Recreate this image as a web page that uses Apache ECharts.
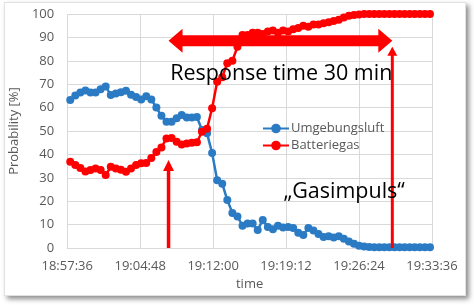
<!DOCTYPE html>
<html>
<head>
<meta charset="utf-8">
<script src="https://cdn.jsdelivr.net/npm/echarts@6/dist/echarts.min.js"></script>
<style>
html,body{margin:0;padding:0;background:#fff;}
#frame{position:absolute;left:4px;top:2px;width:462px;height:294px;background:#fff;border:1px solid #e2e2e2;box-sizing:border-box;box-shadow:3px 3px 5px rgba(0,0,0,0.45);}
#chart{position:absolute;left:0;top:0;width:474px;height:305px;}
</style>
</head>
<body>
<div id="frame"></div>
<div id="chart"></div>
<script>
// ---- data ----
const times = ["18:57:54","18:58:24","18:58:54","18:59:24","18:59:54","19:00:24","19:00:54","19:01:24","19:01:54","19:02:24",
"19:02:54","19:03:24","19:03:54","19:04:24","19:04:54","19:05:24","19:05:54","19:06:24","19:06:54","19:07:24",
"19:07:54","19:08:24","19:08:54","19:09:24","19:09:54","19:10:24","19:10:54","19:11:24","19:11:54","19:12:24",
"19:12:54","19:13:24","19:13:54","19:14:24","19:14:54","19:15:24","19:15:54","19:16:24","19:16:54","19:17:24",
"19:17:54","19:18:24","19:18:54","19:19:24","19:19:54","19:20:24","19:20:54","19:21:24","19:21:54","19:22:24",
"19:22:54","19:23:24","19:23:54","19:24:24","19:24:54","19:25:24","19:25:54","19:26:24","19:26:54","19:27:24",
"19:27:54","19:28:24","19:28:54","19:29:24","19:29:54","19:30:24","19:30:54","19:31:24","19:31:54","19:32:24",
"19:32:54","19:33:24"];
const umgebungsluft = [63.2,65.2,66.5,67.3,66.5,66.5,67.8,69.0,65.4,66.0,
66.6,67.2,65.5,64.5,63.5,64.8,63.5,60.0,56.5,54.0,
54.0,55.5,56.8,55.8,55.8,56.0,50.4,49.0,40.6,29.0,
27.5,20.5,15.0,13.5,9.5,10.5,10.5,7.7,12.0,9.0,
8.0,9.5,8.8,9.0,8.5,6.5,5.6,8.5,7.5,6.0,
4.7,5.0,4.5,5.0,4.0,2.8,1.8,1.0,0.6,0.4,
0.3,0.3,0.3,0.3,0.3,0.3,0.3,0.3,0.3,0.3,
0.3,0.3];
const batteriegas = [36.9,35.5,34.2,32.7,33.3,34.0,33.3,31.2,34.7,34.0,
33.4,32.6,34.0,35.5,36.2,36.3,38.5,41.0,43.0,46.8,
47.0,45.4,44.2,44.7,45.0,45.2,49.7,51.0,59.7,71.0,
73.0,79.0,80.0,86.0,91.0,91.0,92.0,92.0,91.5,92.5,
93.0,92.0,93.0,92.5,93.5,94.0,95.0,94.5,95.5,95.5,
96.0,96.5,97.0,97.5,98.5,99.2,99.6,99.8,100,100,
100,100,100,100,100,100,100,100,100,100,
100,100];
const xTickStart = "18:57:36", xTickEnd = "19:33:36", xTickStepSec = 432;
const yTicks = [0,10,20,30,40,50,60,70,80,90,100];
const seriesNames = ["Umgebungsluft","Batteriegas"];
const annoText1 = "Response time 30 min";
const annoText2 = "\u201EGasimpuls\u201C";
// annotation anchors in data units [time, probability]
const arrowStart = ["19:07:36", 88.6], arrowEnd = ["19:29:41", 88.6];
const vArrow1 = ["19:07:36", 0, 37.6], vArrow2 = ["19:29:41", 0, 86];
const text1Pos = ["19:07:46", 74.5], text2Pos = ["19:18:56", 24];

function toSec(s){const p=s.split(':').map(Number);return p[0]*3600+p[1]*60+p[2];}
function fmt(v){v=Math.round(v);const h=Math.floor(v/3600),m=Math.floor(v%3600/60),s=v%60;return h+':'+String(m).padStart(2,'0')+':'+String(s).padStart(2,'0');}

const font = "'Open Sans', sans-serif";
const grey = '#595959';
const chart = echarts.init(document.getElementById('chart'), null, {renderer:'canvas'});
chart.setOption({
  animation:false,
  backgroundColor:'transparent',
  textStyle:{fontFamily:font},
  grid:{left:65,right:42,top:14,bottom:57,containLabel:false},
  legend:{
    data:seriesNames, orient:'vertical', left:257, top:117, itemGap:4,
    itemWidth:26, itemHeight:12,
    textStyle:{fontFamily:font,fontSize:13,color:grey,padding:[0,0,0,-3]}
  },
  xAxis:{
    type:'value', min:toSec(xTickStart), max:toSec(xTickEnd), interval:xTickStepSec,
    name:'time', nameLocation:'middle', nameGap:30,
    nameTextStyle:{fontFamily:font,fontSize:13,color:grey},
    axisLine:{show:true,lineStyle:{color:'#d9d9d9'}},
    axisTick:{show:false},
    axisLabel:{formatter:fmt,fontFamily:font,fontSize:13,color:grey,margin:12,showMinLabel:true,showMaxLabel:true},
    splitLine:{show:true,lineStyle:{color:'#d9d9d9'}}
  },
  yAxis:{
    type:'value', min:yTicks[0], max:yTicks[yTicks.length-1], interval:yTicks[1]-yTicks[0],
    name:'Probability [%]', nameLocation:'middle', nameGap:42,
    nameTextStyle:{fontFamily:font,fontSize:13,color:grey},
    axisLine:{show:false}, axisTick:{show:false},
    axisLabel:{fontFamily:font,fontSize:13,color:grey,margin:13},
    splitLine:{show:true,lineStyle:{color:'#d9d9d9'}}
  },
  series:[
    {name:seriesNames[0],type:'line',data:times.map((t,i)=>[toSec(t),umgebungsluft[i]]),
     symbol:'circle',symbolSize:8,showSymbol:true,color:'#2b7bc4',lineStyle:{width:2.5,color:'#2b7bc4'},itemStyle:{color:'#2b7bc4'}},
    {name:seriesNames[1],type:'line',data:times.map((t,i)=>[toSec(t),batteriegas[i]]),
     symbol:'circle',symbolSize:8,showSymbol:true,color:'#ff0000',lineStyle:{width:2.5,color:'#ff0000'},itemStyle:{color:'#ff0000'}}
  ]
});

function px(t,v){return chart.convertToPixel({gridIndex:0},[toSec(t),v]);}
const a0 = px(arrowStart[0],arrowStart[1]), a1 = px(arrowEnd[0],arrowEnd[1]);
const hl=14, hh=12, sh=5.5, cy=a0[1];
const dbl = [[a0[0],cy],[a0[0]+hl,cy-hh],[a0[0]+hl,cy-sh],[a1[0]-hl,cy-sh],[a1[0]-hl,cy-hh],[a1[0],cy],[a1[0]-hl,cy+hh],[a1[0]-hl,cy+sh],[a0[0]+hl,cy+sh],[a0[0]+hl,cy+hh]];
function vArrow(a,hw,hlen,sw){
  const b=px(a[0],a[1]), t=px(a[0],a[2]); const x=b[0];
  return [[x-sw/2,b[1]],[x-sw/2,t[1]+hlen],[x-hw/2,t[1]+hlen],[x,t[1]],[x+hw/2,t[1]+hlen],[x+sw/2,t[1]+hlen],[x+sw/2,b[1]]];
}
const t1=px(text1Pos[0],text1Pos[1]), t2=px(text2Pos[0],text2Pos[1]);
chart.setOption({graphic:[
  {type:'polygon',shape:{points:dbl},style:{fill:'#ff0000'},z:100},
  {type:'polygon',shape:{points:vArrow(vArrow1,11,11,3.5)},style:{fill:'#ff0000'},z:100},
  {type:'polygon',shape:{points:vArrow(vArrow2,10,9,3)},style:{fill:'#ff0000'},z:100},
  {type:'text',x:t1[0],y:t1[1],style:{text:annoText1,font:"21.5px 'Open Sans', sans-serif",fill:'#000',textVerticalAlign:'middle',textAlign:'left'},z:100},
  {type:'text',x:t2[0],y:t2[1],style:{text:annoText2,font:"21.5px 'Open Sans', sans-serif",fill:'#000',textVerticalAlign:'middle',textAlign:'left'},z:100}
]});
</script>
</body>
</html>
